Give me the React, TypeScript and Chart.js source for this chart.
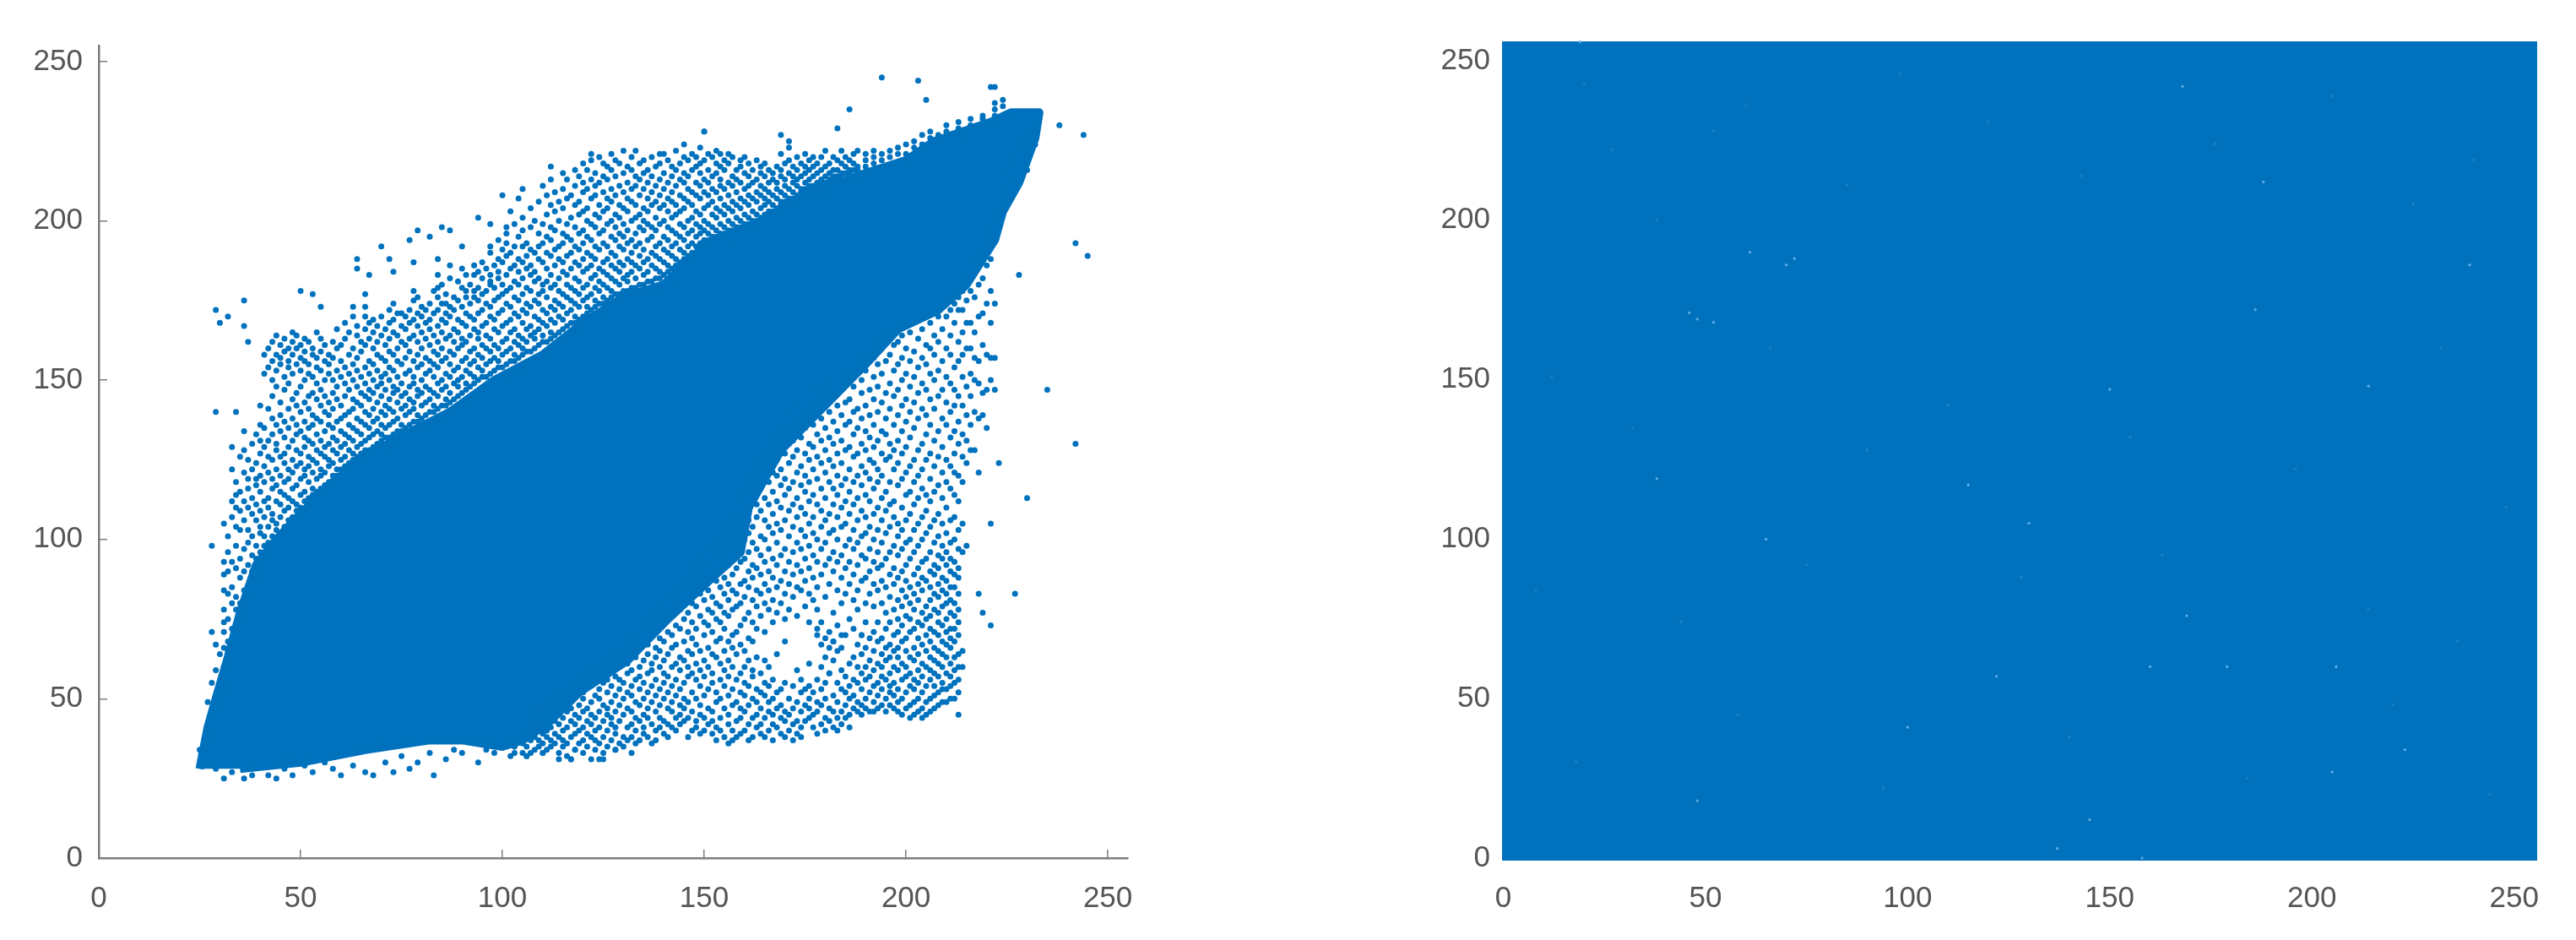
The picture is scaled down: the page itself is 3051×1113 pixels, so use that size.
import React, { useEffect, useRef } from "react";
import Chart from "chart.js/auto";

const tickValues = [0, 50, 100, 150, 200, 250];

// Solid core of the left scatter, outline
const coreX = [25, 27, 29, 32, 35, 39, 44, 50, 58, 66, 76, 87, 98, 110, 120, 130, 140, 150, 165, 175, 190, 200, 207, 221, 226, 233, 232, 228, 224, 222, 215, 208, 198, 190, 183, 169, 161, 159, 152, 141, 131, 119, 111, 105, 100, 90, 82, 66, 50, 35];
const coreY = [28, 41, 50, 63, 77, 92, 100, 108, 118, 126, 133, 140, 150, 158, 168, 176, 180, 192, 200, 208, 215, 219, 225, 231, 234, 234, 226, 212, 203, 194, 180, 172, 166, 155, 146, 128, 110, 96, 88, 75, 62, 52, 42, 37, 35, 37, 37, 34, 30, 28];

// Isolated points read one by one
const outlierPoints = [
  [194, 245], [203, 244], [222, 242], [221, 242], [205, 238], [186, 235], [183, 229], [238, 230], [244, 227], [242, 193], [245, 189], [228, 183],
  [235, 147], [242, 130], [223, 124], [230, 113], [150, 228], [169, 227], [171, 225], [221, 105], [218, 83], [227, 83], [219, 77], [221, 73], [213, 45],
  [29, 172], [32, 170], [30, 168], [36, 175], [36, 167], [37, 162], [29, 140], [34, 140], [36, 134], [33, 129], [33, 122], [50, 178], [53, 177], [55, 173],
  [63, 173], [66, 173], [66, 177], [73, 174], [64, 188], [64, 185], [67, 183], [70, 192], [72, 188], [73, 184], [77, 194], [79, 197], [82, 195], [85, 198],
  [87, 197], [90, 192], [94, 201], [97, 199], [101, 198], [100, 208], [105, 210], [104, 207], [112, 217], [122, 221], [133, 222], [139, 221], [78, 187],
  [84, 188], [87, 186], [84, 183], [90, 185], [93, 183], [97, 192], [101, 193], [105, 192], [99, 188], [97, 180], [93, 178], [78, 178], [78, 175], [84, 179],
  [86, 174], [84, 176], [91, 176],
  [28, 98], [31, 105], [34, 110], [34, 114], [31, 93], [31, 89], [28, 71], [29, 67], [30, 64], [28, 55], [27, 49], [25, 34], [27, 40], [31, 74], [32, 65], [29, 59],
  [29, 28], [31, 25], [33, 27], [36, 25], [38, 26], [42, 26], [44, 25], [46, 28], [48, 26], [51, 29], [53, 27], [56, 30], [58, 28], [60, 26], [63, 29], [66, 27], [68, 26], [71, 30], [73, 27], [75, 32], [77, 28], [83, 26],
  [79, 30], [82, 33], [86, 31], [88, 34], [90, 33], [94, 30], [96, 34], [98, 33], [102, 32], [106, 32], [110, 33], [114, 31], [117, 31], [118, 34], [125, 31], [128, 34], [132, 33],
  [178, 70], [179, 67], [182, 68], [184, 70], [189, 70], [168, 64], [173, 59], [176, 61], [170, 68], [181, 58],
];

// Speckled band above the core: one [x, y values] entry per column
const upperBand: [number, number[]][] = [
  [31, [52, 60, 66, 71, 78, 84]], [32, [68, 75, 83, 90, 96, 101]], [33, [72, 80, 85, 93, 107, 112]], [34, [78, 82, 91, 98, 104, 118]], [35, [80, 88, 94, 103, 109, 115, 126]],
  [36, [84, 90, 97, 106, 112, 121, 128]], [37, [85, 92, 99, 103, 110, 116, 119, 125]], [38, [90, 95, 101, 108, 113, 122, 130]], [39, [94, 98, 106, 111, 117, 124, 133, 119]],
  [40, [96, 102, 104, 109, 115, 120, 127, 131, 136, 142]], [41, [98, 101, 107, 112, 118, 123, 129, 135, 152, 158]], [42, [99, 104, 110, 113, 121, 126, 131, 141, 154, 160]],
  [43, [101, 106, 108, 116, 119, 125, 133, 138, 145, 150, 156, 162]], [44, [103, 105, 112, 117, 122, 128, 130, 136, 148, 153, 158, 164]], [45, [102, 107, 111, 115, 120, 126, 134, 139, 143, 155, 157, 161]],
  [46, [104, 109, 114, 118, 124, 127, 132, 137, 147, 151, 159, 163]], [47, [106, 110, 113, 119, 122, 129, 135, 141, 149, 154, 156, 160]], [48, [107, 112, 116, 121, 125, 131, 138, 144, 152, 158, 162, 165]],
  [49, [109, 111, 117, 123, 128, 133, 136, 142, 146, 155, 160, 164]], [50, [110, 114, 119, 124, 127, 134, 140, 148, 153, 157, 161]], [51, [112, 115, 120, 122, 129, 132, 137, 143, 150, 156, 159, 163]],
  [52, [113, 118, 123, 126, 131, 135, 141, 145, 152, 155, 162]], [53, [114, 116, 121, 125, 130, 136, 139, 146, 151, 158, 160]], [54, [115, 119, 124, 128, 133, 138, 144, 149, 154, 157, 165]],
  [55, [116, 120, 122, 127, 131, 137, 142, 147, 153, 159, 163]], [56, [117, 121, 126, 129, 134, 140, 145, 150, 156, 161]], [57, [118, 123, 125, 130, 136, 139, 143, 152, 155, 158]],
  [58, [120, 124, 128, 132, 135, 141, 146, 150, 157, 162]], [59, [120, 122, 127, 131, 137, 144, 148, 153, 160, 166]], [60, [122, 125, 129, 134, 138, 142, 151, 156, 161]],
  [61, [123, 126, 130, 133, 139, 145, 149, 154, 163, 168]], [62, [124, 128, 132, 136, 140, 147, 152, 158, 165]], [63, [125, 127, 131, 135, 141, 144, 150, 155, 160, 170]],
  [64, [126, 129, 134, 138, 143, 148, 153, 157, 164, 167]], [65, [127, 130, 133, 137, 142, 146, 151, 159, 162]], [66, [128, 131, 136, 140, 145, 149, 154, 161, 166, 170]],
  [67, [128, 132, 135, 139, 144, 147, 152, 156, 163, 168]], [68, [129, 133, 137, 141, 146, 150, 155, 160, 165, 169]], [69, [130, 134, 138, 143, 148, 153, 158, 162, 167]],
  [70, [131, 133, 136, 140, 145, 149, 151, 157, 164, 170]], [71, [132, 135, 139, 142, 147, 152, 156, 161, 166]], [72, [132, 136, 141, 144, 150, 154, 159, 163, 168, 172]],
  [73, [133, 137, 140, 146, 148, 153, 158, 165, 169]], [74, [134, 138, 143, 147, 151, 156, 160, 164, 171]], [75, [134, 136, 141, 145, 149, 155, 162, 167, 171]],
  [76, [135, 139, 142, 146, 152, 157, 161, 166, 170]], [77, [136, 140, 144, 148, 153, 159, 163, 168, 172]], [78, [137, 141, 143, 149, 151, 156, 164, 169]],
  [79, [137, 139, 145, 147, 154, 158, 162, 167, 171, 176]], [80, [138, 142, 146, 150, 155, 160, 165, 170, 173]], [81, [139, 143, 148, 152, 157, 163, 168, 172]],
  [82, [140, 144, 147, 153, 156, 161, 166, 169, 174]], [83, [140, 142, 146, 151, 155, 159, 164, 171, 178]], [84, [141, 145, 149, 154, 158, 162, 167, 172]],
  [85, [142, 147, 150, 156, 160, 165, 169, 174, 180]], [86, [142, 144, 148, 152, 157, 163, 168, 171, 177]], [87, [143, 146, 151, 155, 159, 164, 170, 173, 182]],
  [88, [144, 149, 153, 158, 162, 166, 172, 176]], [89, [145, 148, 150, 154, 160, 165, 169, 175, 181]], [90, [146, 151, 156, 161, 163, 168, 173, 179]],
  [91, [147, 149, 153, 157, 162, 167, 171, 178, 183]], [92, [148, 152, 155, 159, 164, 170, 174, 180]], [93, [149, 151, 156, 160, 166, 169, 176, 186]],
  [94, [150, 154, 158, 163, 165, 171, 175, 179, 184]], [95, [151, 153, 157, 161, 167, 172, 177, 182, 187]], [96, [151, 155, 160, 164, 168, 174, 178, 185]],
  [97, [152, 156, 159, 163, 170, 173, 181, 183, 190]], [98, [153, 157, 161, 166, 169, 175, 179, 186]], [99, [154, 156, 160, 165, 171, 176, 182, 184, 194]],
  [100, [154, 158, 162, 167, 172, 177, 180, 187, 191]], [101, [155, 159, 163, 168, 174, 178, 183, 189, 196]], [102, [156, 160, 165, 169, 173, 179, 185, 190, 203]],
  [103, [156, 158, 162, 166, 171, 176, 181, 186, 192, 199]], [104, [157, 161, 164, 170, 175, 180, 184, 188, 195]], [105, [158, 160, 163, 168, 172, 177, 182, 187, 197, 201]],
  [106, [159, 162, 166, 171, 174, 179, 185, 189, 193]], [107, [159, 164, 167, 173, 178, 183, 186, 191, 198, 204]], [108, [160, 163, 165, 170, 175, 181, 184, 190, 200]],
  [109, [161, 166, 169, 174, 177, 182, 188, 192, 196, 206]], [110, [162, 164, 168, 172, 178, 180, 187, 193, 199, 211]], [111, [162, 167, 171, 176, 181, 185, 190, 195, 202, 208]],
  [112, [163, 165, 169, 173, 179, 183, 189, 194, 198, 205, 213]], [113, [164, 168, 172, 175, 180, 186, 191, 197, 203, 209]], [114, [165, 170, 174, 178, 182, 188, 192, 200, 206]],
  [115, [166, 169, 173, 177, 184, 187, 193, 196, 204, 210, 215]], [116, [167, 171, 176, 180, 183, 189, 195, 199, 207, 213]], [117, [168, 172, 175, 179, 185, 190, 194, 201, 208]],
  [118, [168, 170, 174, 178, 182, 187, 192, 198, 205, 211, 216]], [119, [169, 173, 177, 181, 186, 191, 196, 202, 206, 214]], [120, [170, 175, 179, 184, 188, 193, 197, 203, 209, 212, 218]],
  [121, [171, 173, 176, 180, 185, 190, 195, 200, 204, 210, 216]], [122, [172, 177, 182, 186, 189, 194, 199, 207, 213, 219]], [123, [173, 175, 179, 183, 188, 192, 198, 202, 208, 211, 215]],
  [124, [174, 178, 181, 185, 191, 196, 201, 205, 212, 220]], [125, [174, 176, 180, 184, 187, 193, 197, 203, 209, 214, 218]], [126, [175, 179, 183, 188, 192, 199, 204, 207, 213, 217]],
  [127, [176, 178, 182, 186, 190, 195, 200, 206, 210, 216, 221]], [128, [177, 181, 185, 189, 194, 198, 202, 208, 214, 219]], [129, [177, 180, 184, 187, 192, 196, 201, 205, 211, 218]],
  [130, [178, 182, 186, 191, 195, 199, 204, 209, 215, 222]], [131, [178, 181, 183, 188, 193, 197, 203, 207, 212, 217]], [132, [179, 184, 187, 190, 194, 200, 206, 210, 216, 220]],
  [133, [179, 182, 186, 192, 196, 201, 205, 211, 214]], [134, [180, 185, 189, 193, 198, 202, 208, 213, 218]], [135, [180, 183, 187, 191, 197, 200, 204, 210, 215, 219]],
  [136, [181, 184, 188, 194, 199, 203, 207, 212, 216]], [137, [181, 186, 190, 195, 198, 205, 209, 214, 220]], [138, [182, 185, 189, 192, 197, 201, 206, 211, 217]],
  [139, [182, 184, 188, 193, 199, 204, 208, 213, 218]], [140, [183, 187, 191, 195, 200, 205, 210, 215, 221]], [141, [184, 186, 190, 194, 198, 203, 207, 212, 219]],
  [142, [185, 189, 192, 197, 201, 206, 209, 214, 217]], [143, [186, 188, 193, 196, 202, 205, 211, 216, 222]], [144, [187, 191, 195, 199, 203, 208, 213, 218]],
  [145, [188, 190, 194, 198, 204, 207, 212, 215, 220, 224]], [146, [189, 192, 196, 200, 206, 210, 214, 219]], [147, [190, 193, 197, 201, 205, 209, 216, 221]],
  [148, [192, 195, 199, 203, 208, 212, 217, 220]], [149, [193, 196, 198, 202, 207, 211, 215, 218, 223]], [150, [194, 197, 200, 204, 209, 213, 219, 228]],
  [151, [194, 196, 199, 205, 208, 212, 216, 221]], [152, [195, 198, 202, 206, 210, 214, 220]], [153, [195, 197, 201, 204, 209, 215, 218, 222]],
  [154, [196, 199, 203, 207, 211, 213, 217, 221]], [155, [196, 198, 202, 205, 210, 216, 219]], [156, [197, 200, 204, 208, 212, 218, 221]],
  [157, [197, 199, 203, 206, 211, 214, 220]], [158, [198, 201, 205, 209, 213, 216]], [159, [198, 200, 204, 207, 212, 217, 219]],
  [160, [199, 202, 206, 210, 215, 220]], [161, [199, 201, 205, 208, 211, 214, 218]], [162, [200, 203, 207, 212, 216]], [163, [200, 202, 206, 209, 213, 219]],
  [164, [201, 204, 208, 211, 215, 217]], [165, [202, 205, 207, 210, 214, 218]], [166, [203, 206, 209, 212, 216]], [167, [203, 205, 208, 213, 215]],
  [168, [204, 207, 210, 212, 217]], [169, [205, 206, 209, 214, 216, 221]], [170, [206, 208, 211, 213, 218]], [171, [206, 207, 210, 215, 219, 223]],
  [172, [207, 209, 212, 214, 217]], [173, [208, 211, 213, 216, 220]], [174, [209, 210, 214, 218]], [175, [210, 212, 215, 217, 221]], [176, [210, 211, 213, 216, 219]],
  [177, [211, 214, 217, 220]], [178, [211, 212, 215, 218]], [179, [212, 213, 216, 220]], [180, [212, 214, 217, 222]], [181, [213, 215, 218]], [182, [213, 214, 216, 220]],
  [183, [214, 216, 219]], [184, [214, 215, 218, 222]], [185, [215, 217, 220]], [186, [215, 216, 219]], [187, [216, 218, 221]], [188, [216, 217, 222]], [190, [217, 219, 221]],
  [192, [218, 220, 222]], [194, [219, 221]], [196, [220, 222]], [198, [221, 223]], [200, [221, 224]], [202, [223, 225]], [204, [224, 227]], [206, [226, 228]], [208, [227]], [210, [228, 230]], [213, [229, 231]], [216, [230, 232]], [219, [232, 233]], [222, [233, 235, 237]], [224, [236, 238]],
];

// Speckled band below the core: one [x, y values] entry per column
const lowerBand: [number, number[]][] = [
  [103, [33, 35]], [105, [33, 36, 38]], [106, [32, 35, 39, 41]], [107, [33, 37, 40, 44]], [108, [34, 38, 42, 46]], [109, [35, 37, 41, 45]], [110, [33, 36, 39, 43, 47]], [111, [34, 38, 40, 44, 49]],
  [112, [35, 37, 41, 46, 48]], [113, [36, 39, 43, 47, 50]], [114, [33, 38, 42, 45, 49, 52]], [115, [35, 37, 40, 44, 48, 51]], [116, [32, 36, 41, 46, 50, 53]], [117, [31, 38, 43, 47, 49, 54]],
  [118, [34, 39, 42, 45, 51, 55]], [119, [36, 40, 44, 48, 53, 57]], [120, [33, 37, 41, 46, 50, 52, 56]], [121, [35, 39, 43, 47, 54, 58]], [122, [31, 38, 42, 45, 49, 55, 60]], [123, [34, 37, 40, 44, 51, 57, 59]],
  [124, [31, 36, 41, 46, 50, 53, 61]], [125, [33, 38, 43, 48, 55, 58, 62]], [126, [35, 40, 45, 47, 52, 56, 60]], [127, [37, 42, 44, 49, 54, 59, 63]], [128, [34, 39, 41, 46, 51, 57, 61, 65]],
  [129, [36, 43, 48, 53, 56, 60, 66]], [130, [35, 38, 45, 50, 55, 62, 64, 68]], [131, [37, 41, 47, 52, 58, 61, 67]], [132, [38, 42, 46, 51, 54, 59, 65, 70]], [133, [36, 40, 44, 49, 56, 63, 68, 72]],
  [134, [37, 43, 48, 53, 57, 60, 66, 71]], [135, [39, 41, 45, 50, 55, 62, 69, 74]], [136, [38, 44, 47, 52, 58, 64, 67, 73]], [137, [36, 42, 49, 54, 59, 61, 70, 76]], [138, [37, 40, 46, 51, 56, 63, 66, 72, 79]],
  [139, [41, 44, 48, 53, 60, 65, 69, 75, 78]], [140, [39, 43, 50, 55, 58, 62, 68, 74, 80]], [141, [38, 42, 47, 52, 57, 64, 71, 77, 82]], [142, [41, 46, 49, 54, 60, 66, 70, 76, 84]], [143, [40, 44, 51, 56, 61, 67, 73, 79, 85]],
  [144, [42, 45, 48, 53, 59, 63, 72, 78, 83, 87]], [145, [43, 47, 50, 55, 62, 68, 75, 81, 86]], [146, [38, 44, 49, 57, 60, 65, 71, 77, 84, 88]], [147, [40, 46, 52, 58, 64, 69, 74, 80, 85, 90]], [148, [41, 43, 50, 56, 61, 67, 72, 79, 87, 92]],
  [149, [39, 45, 48, 54, 59, 65, 76, 83, 88, 94]], [150, [40, 44, 51, 57, 62, 70, 74, 81, 86, 90, 96]], [151, [42, 47, 53, 60, 66, 73, 78, 84, 89, 93]], [152, [39, 43, 46, 55, 58, 64, 71, 77, 82, 91, 95]], [153, [37, 41, 49, 52, 63, 68, 75, 80, 87, 92, 98]],
  [154, [40, 44, 50, 56, 61, 69, 74, 79, 85, 90, 96, 100]], [155, [38, 47, 54, 59, 65, 72, 77, 83, 88, 94, 102]], [156, [36, 42, 45, 51, 57, 62, 68, 76, 81, 86, 92, 99, 105]], [157, [37, 40, 48, 53, 60, 66, 70, 78, 84, 89, 95, 101, 107]], [158, [38, 43, 49, 56, 64, 71, 79, 83, 91, 97, 103, 109]],
  [159, [39, 44, 47, 52, 58, 67, 73, 80, 86, 93, 98, 105, 112]], [160, [40, 46, 51, 55, 60, 65, 75, 82, 87, 94, 100, 108, 115]], [161, [37, 42, 48, 54, 62, 69, 77, 85, 90, 96, 102, 106, 112, 118]], [162, [38, 44, 50, 57, 59, 68, 74, 81, 88, 92, 99, 104, 114, 120]], [163, [41, 45, 49, 53, 63, 72, 79, 84, 91, 97, 107, 111, 117, 122]],
  [164, [39, 42, 47, 52, 58, 76, 83, 89, 95, 101, 109, 116, 124]], [165, [38, 44, 51, 55, 62, 71, 80, 86, 93, 100, 106, 113, 119, 126]], [166, [40, 46, 49, 54, 60, 78, 84, 90, 97, 104, 111, 118, 123, 128]], [167, [37, 42, 45, 50, 56, 74, 81, 88, 94, 102, 108, 115, 121, 126, 130]], [168, [41, 47, 52, 77, 85, 92, 99, 105, 112, 120, 125, 132]],
  [169, [39, 44, 48, 53, 80, 87, 95, 103, 110, 117, 122, 129, 134]], [170, [38, 43, 46, 55, 75, 83, 90, 97, 106, 114, 119, 127, 133, 136]], [171, [40, 45, 50, 78, 86, 93, 101, 109, 116, 124, 130, 137]], [172, [37, 42, 47, 54, 82, 89, 96, 104, 111, 118, 126, 131, 135, 139]], [173, [39, 43, 49, 76, 85, 92, 99, 107, 113, 121, 128, 134, 138, 141]],
  [174, [38, 41, 46, 52, 56, 84, 90, 97, 103, 110, 117, 123, 132, 137, 143]], [175, [43, 48, 53, 79, 87, 94, 101, 108, 115, 120, 127, 135, 140]], [176, [44, 47, 50, 54, 74, 83, 91, 98, 105, 112, 118, 125, 130, 139, 145]], [177, [41, 45, 52, 81, 88, 95, 102, 107, 114, 122, 129, 136, 142]], [178, [39, 46, 49, 56, 72, 78, 85, 93, 100, 111, 119, 126, 133, 141, 147]],
  [179, [42, 48, 53, 60, 74, 89, 97, 104, 109, 116, 124, 131, 138, 144]], [180, [40, 44, 50, 55, 63, 69, 82, 92, 99, 106, 113, 121, 128, 135, 143, 148]], [181, [43, 47, 58, 66, 71, 86, 94, 102, 108, 118, 125, 132, 140, 146]], [182, [41, 46, 51, 62, 68, 77, 90, 96, 103, 111, 116, 123, 130, 137, 145, 150]], [183, [40, 44, 49, 55, 65, 73, 84, 93, 100, 107, 114, 120, 127, 134, 142]],
  [184, [42, 46, 53, 59, 66, 80, 88, 95, 104, 110, 117, 124, 131, 139, 147, 152]], [185, [44, 48, 52, 57, 70, 83, 91, 98, 105, 112, 119, 128, 136, 143, 149]], [186, [41, 45, 50, 54, 61, 75, 86, 93, 100, 108, 115, 122, 129, 137, 144, 153]], [187, [47, 51, 56, 63, 72, 81, 89, 97, 103, 111, 118, 126, 133, 140, 148, 151]], [188, [46, 49, 55, 60, 67, 78, 84, 92, 99, 106, 113, 120, 127, 135, 141, 155]],
  [189, [45, 48, 53, 58, 64, 70, 87, 95, 101, 109, 117, 123, 130, 138, 146, 150, 156]], [190, [47, 50, 56, 60, 66, 74, 80, 88, 94, 102, 107, 114, 121, 128, 134, 142, 153, 158]], [191, [46, 52, 57, 62, 69, 83, 90, 97, 104, 112, 119, 125, 132, 139, 147, 159]], [192, [46, 49, 54, 59, 65, 71, 79, 86, 93, 100, 108, 116, 124, 129, 136, 144, 151, 157, 161]], [193, [47, 51, 55, 61, 68, 74, 84, 91, 96, 103, 110, 118, 122, 131, 140, 148, 155, 162]],
  [194, [48, 53, 57, 60, 64, 69, 80, 87, 92, 99, 106, 113, 120, 127, 134, 143, 152, 160, 164]], [195, [46, 50, 56, 62, 66, 72, 77, 85, 94, 102, 109, 115, 125, 133, 138, 146, 156, 163]], [196, [48, 52, 54, 58, 63, 67, 74, 82, 89, 96, 104, 111, 118, 126, 130, 141, 149, 158, 165]], [197, [47, 51, 55, 60, 65, 70, 78, 86, 91, 98, 107, 112, 122, 128, 136, 145, 153, 161, 166]], [198, [46, 49, 53, 59, 63, 66, 71, 75, 81, 88, 95, 101, 105, 117, 124, 131, 139, 147, 155, 162, 167]],
  [199, [45, 50, 56, 61, 68, 73, 79, 84, 90, 97, 103, 110, 119, 127, 134, 142, 150, 157, 164]], [200, [47, 52, 57, 60, 65, 69, 76, 82, 87, 92, 99, 106, 114, 121, 129, 137, 144, 152, 160, 168]], [201, [44, 48, 54, 58, 63, 71, 75, 80, 85, 94, 100, 108, 115, 123, 132, 140, 148, 156, 165]], [202, [45, 49, 53, 56, 62, 66, 72, 78, 83, 89, 96, 103, 111, 118, 125, 135, 143, 151, 159, 169]], [203, [46, 50, 55, 59, 64, 69, 74, 81, 86, 91, 98, 105, 113, 120, 128, 138, 146, 154, 163]],
  [204, [44, 47, 52, 57, 61, 67, 73, 77, 84, 88, 93, 100, 107, 116, 122, 130, 141, 149, 157, 166, 170]], [205, [45, 49, 54, 60, 65, 70, 75, 79, 87, 94, 102, 109, 114, 125, 133, 139, 147, 155, 161]], [206, [46, 50, 56, 59, 63, 68, 72, 76, 81, 85, 90, 96, 104, 112, 119, 127, 136, 144, 152, 160, 168]], [207, [47, 51, 54, 58, 62, 66, 71, 78, 83, 89, 92, 99, 106, 115, 123, 131, 141, 150, 158, 164]], [208, [48, 52, 57, 61, 65, 70, 74, 77, 82, 86, 91, 95, 101, 108, 117, 126, 134, 145, 153, 162, 170]],
  [209, [49, 53, 55, 60, 64, 68, 73, 79, 84, 88, 94, 98, 105, 113, 121, 129, 138, 147, 156, 166]], [210, [49, 53, 58, 63, 67, 71, 75, 80, 83, 87, 92, 96, 102, 110, 118, 125, 136, 143, 151, 160, 170]], [211, [50, 54, 57, 61, 66, 69, 72, 77, 81, 85, 90, 94, 99, 106, 116, 123, 132, 140, 149, 158, 164, 172]], [212, [50, 55, 59, 63, 68, 72, 76, 80, 85, 89, 93, 100, 107, 114, 121, 127, 134, 142, 147, 154, 168, 174]], [213, [52, 56, 60, 64, 70, 74, 78, 83, 88, 91, 97, 103, 112, 120, 130, 137, 145, 156, 162, 172, 176]],
  [214, [60, 65, 96, 105, 118, 126, 133, 142, 151, 158, 165, 172, 178]], [215, [98, 124, 131, 139, 148, 160, 168, 175, 180]], [216, [128, 136, 145, 152, 160, 168, 178, 183]], [217, [128, 140, 150, 157, 165, 176, 185]], [218, [121, 138, 149, 156, 170, 180, 188]],
  [219, [139, 146, 161, 171, 182, 190]], [220, [135, 147, 158, 174, 186, 192]], [221, [150, 157, 168, 178, 188, 194, 198]], [222, [147, 157, 174, 196, 200]], [224, [206, 210, 215]], [226, [214, 218, 222]], [228, [218, 224]], [230, [216, 220, 224, 228]], [232, [224, 228]],
];

// Pale specks in the right panel
const brightX = [61, 72, 70, 46, 48, 52, 19, 130, 169, 160, 179, 206, 122, 223, 205, 145, 137, 158, 115, 38, 65, 100, 48, 150, 214, 188, 168, 186, 239];
const brightY = [190, 188, 186, 171, 169, 168, 256, 105, 76, 60, 60, 60, 57, 34, 27, 12, 3, 0, 117, 119, 100, 41, 18, 147, 148, 212, 242, 172, 186];
const faintX = [20, 27, 38, 52, 60, 85, 98, 120, 143, 176, 205, 225, 240, 12, 32, 66, 90, 110, 155, 196, 232, 248, 8, 44, 75, 128, 163, 214, 236, 18, 58, 94, 140, 184, 220, 244];
const faintY = [243, 222, 200, 228, 236, 211, 246, 231, 214, 224, 239, 205, 219, 151, 135, 160, 128, 142, 132, 122, 160, 110, 84, 74, 92, 88, 95, 78, 68, 30, 45, 22, 38, 25, 48, 20];

const blue = "#0072BD";
const axisGrey = "#7d7d7d";
const labelGrey = "#555555";
const labelFont = { family: "'Liberation Sans'", size: 35 };

const toPoints = (xs: number[], ys: number[]) => xs.map((x, i) => ({ x, y: ys[i] }));
const fromPairs = (list: number[][]) => list.map(([x, y]) => ({ x, y }));
const fromColumns = (list: [number, number[]][]) => list.flatMap(([x, ys]) => ys.map((y) => ({ x, y })));

function Panel({ left, width, config }: { left: number; width: number; config: any }) {
  const ref = useRef<HTMLCanvasElement>(null);
  useEffect(() => {
    const chart = new Chart(ref.current!, config);
    return () => chart.destroy();
  }, []);
  return (
    <canvas
      ref={ref}
      width={width}
      height={1113}
      style={{ position: "absolute", left, top: 0, width, height: 1113, filter: "blur(0.6px)" }}
    />
  );
}

const baseOptions = {
  responsive: false,
  animation: false,
  devicePixelRatio: 1,
  plugins: { legend: { display: false }, tooltip: { enabled: false } },
};

const dotStyle = { pointRadius: 3.5, backgroundColor: blue, borderWidth: 0, clip: false };

const leftConfig = {
  type: "scatter",
  data: {
    datasets: [
      { data: fromPairs(outlierPoints), ...dotStyle },
      { data: fromColumns(upperBand), ...dotStyle },
      { data: fromColumns(lowerBand), ...dotStyle },
      { data: toPoints(coreX, coreY), showLine: true, fill: "shape", backgroundColor: blue, borderColor: blue, borderWidth: 10, borderJoinStyle: "round", pointRadius: 0, tension: 0, clip: false },
    ],
  },
  options: {
    ...baseOptions,
    layout: { autoPadding: false, padding: { top: 54, right: 114, bottom: 0, left: 0 } },
    scales: {
      x: {
        type: "linear", min: 0, max: 255,
        border: { color: axisGrey, width: 2.5 },
        grid: { drawOnChartArea: false, color: axisGrey, tickLength: -10, lineWidth: 1.5 },
        afterFit: (s: any) => { s.height = 97; },
        afterBuildTicks: (s: any) => { s.ticks = tickValues.map((value) => ({ value })); },
        ticks: { color: labelGrey, font: labelFont, padding: 37, maxRotation: 0, autoSkip: false },
      },
      y: {
        type: "linear", min: 0, max: 255,
        border: { color: axisGrey, width: 2.5 },
        grid: { drawOnChartArea: false, color: axisGrey, tickLength: -10, lineWidth: 1.5 },
        afterFit: (s: any) => { s.width = 117; },
        afterBuildTicks: (s: any) => { s.ticks = tickValues.map((value) => ({ value })); },
        ticks: { color: labelGrey, font: labelFont, padding: 29, autoSkip: false },
      },
    },
  },
};

const rightConfig = {
  type: "scatter",
  data: {
    datasets: [
      { data: toPoints(brightX, brightY), pointRadius: 1.6, backgroundColor: "#5fb0ea", borderWidth: 0, clip: false },
      { data: toPoints(faintX, faintY), pointRadius: 1.6, backgroundColor: "#1f82c8", borderWidth: 0, clip: false },
      { data: toPoints([-1, 257, 257, -1], [-1, -1, 257, 257]), showLine: true, fill: "shape", backgroundColor: blue, borderWidth: 0, pointRadius: 0, tension: 0 },
    ],
  },
  options: {
    ...baseOptions,
    layout: { autoPadding: false, padding: { top: 49, right: 46, bottom: 0, left: 0 } },
    scales: {
      x: {
        type: "linear", min: -0.3, max: 255.7,
        border: { display: false },
        grid: { display: false, drawTicks: false },
        afterFit: (s: any) => { s.height = 94; },
        afterBuildTicks: (s: any) => { s.ticks = tickValues.map((value) => ({ value })); },
        ticks: { color: labelGrey, font: labelFont, padding: 24, maxRotation: 0, autoSkip: false },
      },
      y: {
        type: "linear", min: -0.8, max: 256.1,
        border: { display: false },
        grid: { display: false, drawTicks: false },
        afterFit: (s: any) => { s.width = 329; },
        afterBuildTicks: (s: any) => { s.ticks = tickValues.map((value) => ({ value })); },
        ticks: { color: labelGrey, font: labelFont, padding: 14, autoSkip: false },
      },
    },
  },
};

export default function App() {
  return (
    <div style={{ position: "absolute", left: 0, top: 0, width: 3051, height: 1113, overflow: "hidden", background: "#fff" }}>
      <Panel left={0} width={1450} config={leftConfig} />
      <Panel left={1450} width={1601} config={rightConfig} />
    </div>
  );
}
